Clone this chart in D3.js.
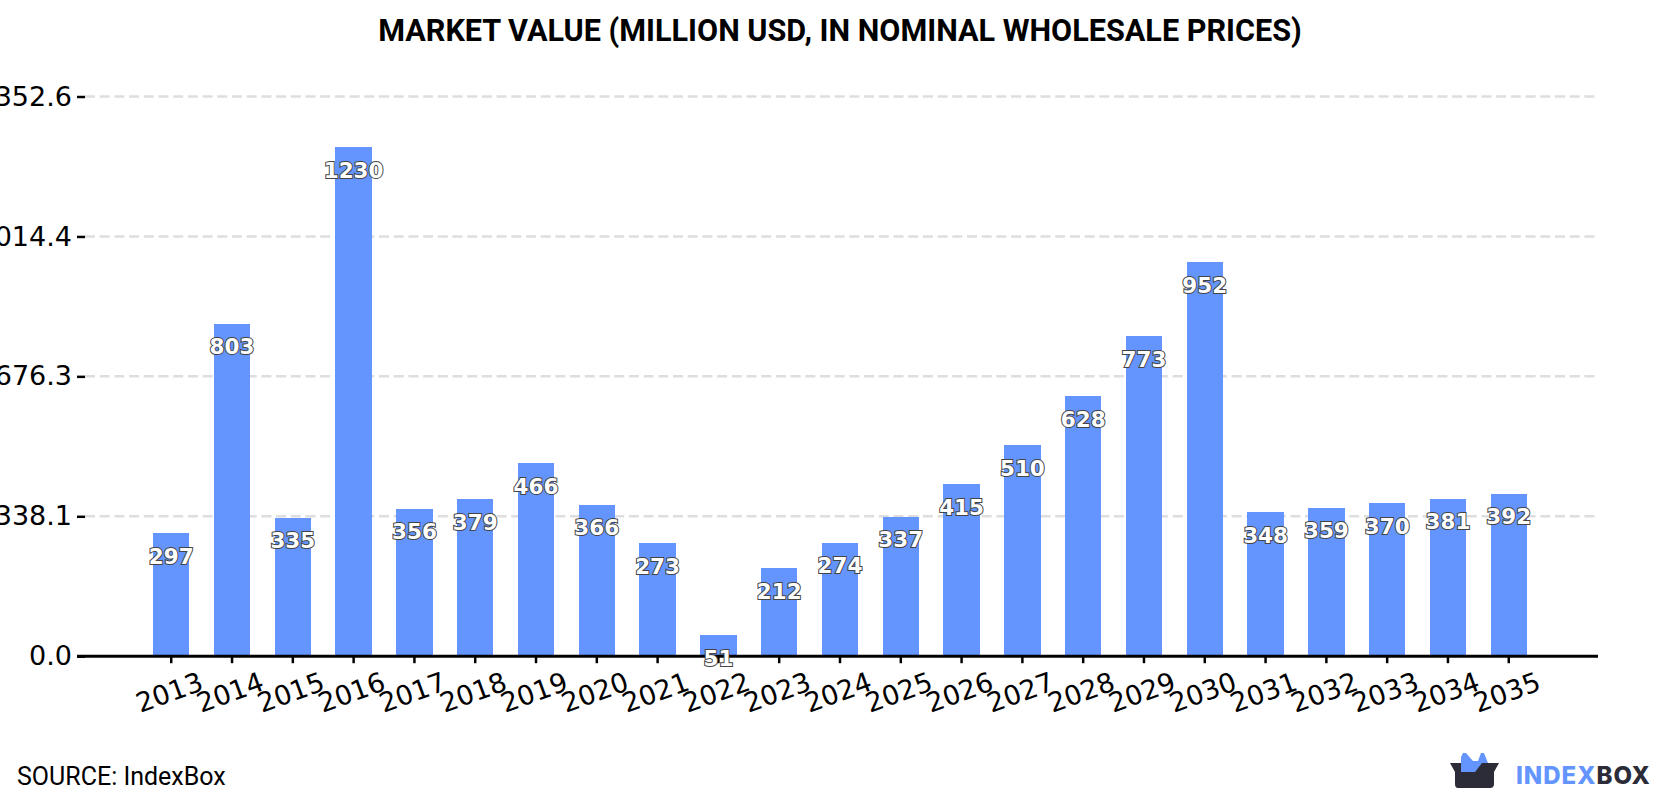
<!DOCTYPE html>
<html>
<head>
<meta charset="utf-8">
<script src="https://d3js.org/d3.v7.min.js"></script>
<style>
html, body { margin: 0; padding: 0; background: #fff; }
svg { display: block; }
</style>
</head>
<body>
<svg id="chart" width="1680" height="800"></svg>
<script>
const years = ["2013","2014","2015","2016","2017","2018","2019","2020","2021","2022","2023","2024","2025","2026","2027","2028","2029","2030","2031","2032","2033","2034","2035"];
const marketValue = [297,803,335,1230,356,379,466,366,273,51,212,274,337,415,510,628,773,952,348,359,370,381,392];
const yTickValues = [0, 338.1, 676.3, 1014.4, 1352.6];
const chartTitle = "MARKET VALUE (MILLION USD, IN NOMINAL WHOLESALE PRICES)";
const sourceLabel = "SOURCE: IndexBox";

const svg = d3.select("#chart");
const axisLeft = 77, axisRight = 1598, baseline = 656.2, plotTop = 96.5;

const x = d3.scaleBand().domain(years).range([153, 1527]).paddingInner(0.4).paddingOuter(0);
const y = d3.scaleLinear().domain([0, 1352.6]).range([baseline, plotTop]);

svg.append("text")
  .attr("x", 840).attr("y", 41)
  .attr("text-anchor", "middle")
  .attr("font-family", "Roboto").attr("font-weight", 700).attr("font-size", 30.6)
  .attr("fill", "#000")
  .text(chartTitle);

// Dashed grid lines, skipping the zero line
svg.append("g").selectAll("line")
  .data(yTickValues.filter(d => d > 0))
  .join("line")
  .attr("x1", axisLeft + 8).attr("x2", axisRight)
  .attr("y1", d => y(d)).attr("y2", d => y(d))
  .attr("stroke", "#dedede").attr("stroke-width", 2.5)
  .attr("stroke-dasharray", "10 4.7");

// Bars
svg.append("g").selectAll("rect")
  .data(years.map((year, i) => ({ year, value: marketValue[i] })))
  .join("rect")
  .attr("x", d => x(d.year))
  .attr("width", x.bandwidth())
  .attr("y", d => y(d.value))
  .attr("height", d => baseline - y(d.value))
  .attr("fill", "#6495ff")
  .attr("shape-rendering", "crispEdges");

// Y axis: ticks and labels only
const yAxis = svg.append("g")
  .attr("transform", `translate(${axisLeft + 8},0)`)
  .call(d3.axisLeft(y).tickValues(yTickValues).tickFormat(d3.format(".1f")).tickSize(8).tickPadding(5));
yAxis.select(".domain").remove();
yAxis.selectAll(".tick line").attr("stroke", "#000").attr("stroke-width", 2.5);
yAxis.selectAll(".tick text")
  .attr("font-family", "DejaVu Sans").attr("font-size", 27).attr("fill", "#000");

// X axis with slanted year labels
const xAxis = svg.append("g")
  .attr("transform", `translate(0,${baseline})`)
  .call(d3.axisBottom(x).tickSize(7).tickSizeOuter(0));
xAxis.select(".domain")
  .attr("d", `M${axisLeft},0H${axisRight}`)
  .attr("stroke", "#000").attr("stroke-width", 3);
xAxis.selectAll(".tick line").attr("stroke", "#000").attr("stroke-width", 2.5);
xAxis.selectAll(".tick text")
  .attr("font-family", "DejaVu Sans").attr("font-size", 27).attr("fill", "#000")
  .attr("text-anchor", "middle")
  .attr("dy", null).attr("y", 0).attr("dominant-baseline", "central")
  .attr("transform", "translate(-2,36) rotate(-20)");

// Value labels sitting just under each bar top
svg.append("g").selectAll("text")
  .data(years.map((year, i) => ({ year, value: marketValue[i] })))
  .join("text")
  .attr("x", d => x(d.year) + x.bandwidth() / 2)
  .attr("y", d => y(d.value) + 23)
  .attr("dominant-baseline", "central")
  .attr("text-anchor", "middle")
  .attr("font-family", "DejaVu Sans").attr("font-weight", 700).attr("font-size", 21.5)
  .attr("fill", "#fff").attr("stroke", "#444").attr("stroke-width", 2)
  .attr("paint-order", "stroke")
  .text(d => d.value);

svg.append("text")
  .attr("x", 17).attr("y", 785)
  .attr("font-family", "Roboto").attr("font-size", 25).attr("fill", "#000")
  .text(sourceLabel);

// IndexBox logo: open box with blue crown, then the wordmark
const logo = svg.append("g");
logo.append("path")
  .attr("d", "M1461,775 L1461,757 L1463,753 L1466,753 L1473,761 L1478,761 L1481,753 L1484,753 L1488,763 L1488,775 Z")
  .attr("fill", "#6495ff");
logo.append("path")
  .attr("d", "M1450,763 L1461,763 L1461,772 L1475,772 L1482,763 L1499,763 L1494,772 L1494,784 Q1494,788 1490,788 L1458,788 Q1455,788 1455,784 L1455,772 Z")
  .attr("fill", "#2b2c38");
const word = logo.append("text")
  .attr("x", 1516).attr("y", 784)
  .attr("font-family", "Inter").attr("font-weight", 800).attr("font-size", 24)
  .attr("letter-spacing", 1);
word.append("tspan").attr("fill", "#6495ff").text("INDEX");
word.append("tspan").attr("fill", "#2b2c38").text("BOX");
</script>
</body>
</html>
